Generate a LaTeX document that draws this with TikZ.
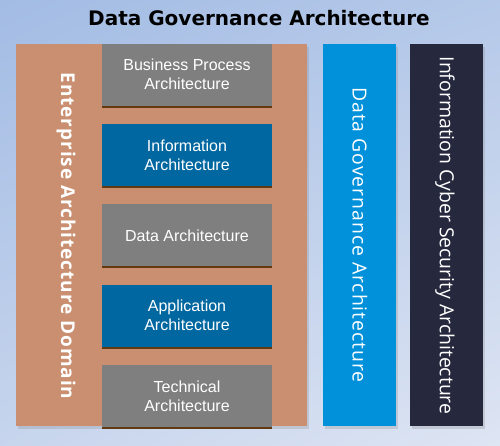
\documentclass[tikz,border=0pt]{standalone}
\usepackage{fontspec}
\setmainfont{Liberation Sans}
\newfontfamily\dvsans{DejaVu Sans}
\newfontfamily\opsans{Open Sans}
\newfontfamily\opsanswide[LetterSpace=5]{Open Sans}
\usetikzlibrary{
  positioning,
  shadings,
  shadows
}
\definecolor{bgtop}{RGB}{163,188,228}
\definecolor{bgbottom}{RGB}{222,229,243}
\definecolor{domaintan}{RGB}{201,143,112}
\definecolor{layergray}{RGB}{127,127,127}
\definecolor{layerblue}{RGB}{0,103,160}
\definecolor{govblue}{RGB}{0,145,218}
\definecolor{cybernavy}{RGB}{38,41,62}
\definecolor{layershadow}{RGB}{99,57,16}

\tikzset{
  pillar/.style={inner sep=0pt, minimum height=382pt,
    drop shadow={opacity=0.25, shadow xshift=2pt, shadow yshift=-3pt}},
  layer/.style={inner sep=0pt, minimum width=170pt, minimum height=62pt,
    align=center, text=white, font=\fontsize{16}{19}\selectfont,
    drop shadow={fill=layershadow, opacity=1, shadow xshift=0pt, shadow yshift=-2pt}},
  sidetext/.style={text=white, rotate=-90, font=\opsans\fontsize{19.4}{21}\selectfont}
}

\begin{document}
\begin{tikzpicture}[x=1pt, y=-1pt, node distance=18pt]
  % Background
  \shade[upper left=bgtop, upper right=bgtop!70!bgbottom,
    lower left=bgtop!40!bgbottom, lower right=bgbottom]
    (0,0) rectangle (500,445);
  \useasboundingbox (0,0) rectangle (500,445);

  % Title
  \node[font=\dvsans\bfseries\fontsize{20}{22}\selectfont] (title) at (259,18) {Data Governance Architecture};

  % Pillars
  \node[pillar, fill=domaintan, minimum width=291pt] (domain) at (161.5,235) {};
  \node[pillar, fill=govblue, minimum width=73pt] (gov) at (359.5,235) {};
  \node[pillar, fill=cybernavy, minimum width=73pt] (cyber) at (446.5,235) {};

  % Architecture layers
  \node[layer, fill=layergray] (business) at (187,74.5) {Business Process\\Architecture};
  \node[layer, fill=layerblue, below=of business] (information) {Information\\Architecture};
  \node[layer, fill=layergray, below=of information] (data) {Data Architecture};
  \node[layer, fill=layerblue, below=of data] (application) {Application\\Architecture};
  \node[layer, fill=layergray, below=of application] (technical) {Technical\\Architecture};

  % Vertical labels
  \node[sidetext, font=\opsanswide\bfseries\fontsize{19}{21}\selectfont] (domainlabel) at (66,236) {Enterprise Architecture Domain};
  \node[sidetext, font=\opsanswide\fontsize{19.4}{21}\selectfont] (govlabel) at (360,235) {Data Governance Architecture};
  \node[sidetext] (cyberlabel) at (445,235.5) {Information Cyber Security Architecture};
\end{tikzpicture}
\end{document}
